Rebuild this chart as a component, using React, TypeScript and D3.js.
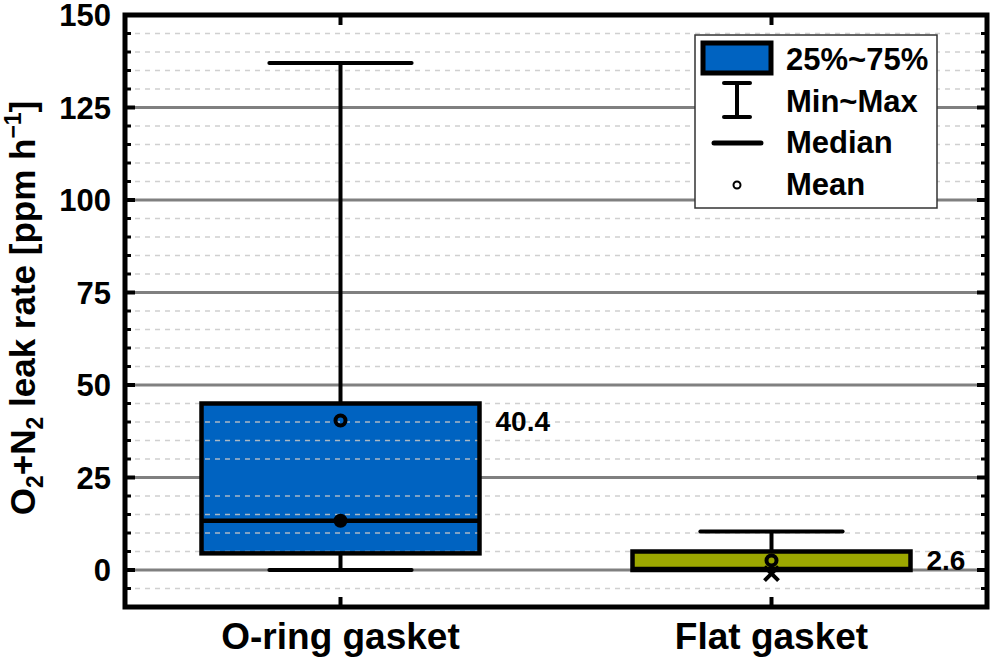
import React from 'react';
import * as d3 from 'd3';

// categories and box statistics
const categories = ['O-ring gasket', 'Flat gasket'];
const q1Values = [4.5, 0];
const q3Values = [45, 5];
const medianValues = [13.3, 0.3];
const minValues = [0, 0];
const maxValues = [137, 10.4];
const meanValues = [40.4, 2.6];
const dotValues = [13.3, null];
const crossValues = [null, -1];
const meanLabels = ['40.4', '2.6'];
const boxColors = ['#0063c1', '#9ca700'];

const yMajorTicks = [0, 25, 50, 75, 100, 125, 150];
const yMinorTicks = d3.range(-5, 150, 5).filter(v => v % 25 !== 0);

const legendLabels = ['25%~75%', 'Min~Max', 'Median', 'Mean'];

const W = 992;
const H = 658;
const margin = { left: 125, right: 5, top: 15, bottom: 51 };
const FONT = '"Liberation Sans", Arial, sans-serif';

const App: React.FC = () => {
  const x0 = margin.left;
  const x1 = W - margin.right;
  const yTop = margin.top;
  const yBot = H - margin.bottom;

  const y = d3.scaleLinear().domain([-10, 150]).range([yBot, yTop]);
  const x = d3.scalePoint<string>().domain(categories).range([x0, x1]).padding(0.5);
  const step = x.step();
  const boxW = step * 0.645;
  const capW = step * 0.33;

  return (
    <div style={{ position: 'absolute', left: 0, top: 0 }}>
      <svg width={W} height={H} style={{ display: 'block', background: '#fff' }} fontFamily={FONT}>
        {/* major grid under the boxes */}
        {yMajorTicks.filter(v => v < 150).map(v => (
          <line key={'mj' + v} x1={x0} x2={x1} y1={y(v)} y2={y(v)} stroke="#808080" strokeWidth={3} />
        ))}

        {/* box fills */}
        {categories.map((c, i) => {
          const cx = x(c) as number;
          return (
            <rect key={'f' + c} x={cx - boxW / 2} y={y(q3Values[i])} width={boxW}
              height={y(q1Values[i]) - y(q3Values[i])} fill={boxColors[i]} />
          );
        })}

        {/* dashed minor grid shows through the boxes */}
        {yMinorTicks.map(v => (
          <line key={'mn' + v} x1={x0} x2={x1} y1={y(v)} y2={y(v)}
            stroke="#c8c8c8" strokeWidth={1.5} strokeDasharray="5,5" opacity={0.85} />
        ))}

        {categories.map((c, i) => {
          const cx = x(c) as number;
          const cross = crossValues[i];
          const dot = dotValues[i];
          return (
            <g key={'o' + c}>
              <line x1={cx} x2={cx} y1={y(q3Values[i])} y2={y(maxValues[i])} stroke="#000" strokeWidth={4} />
              <line x1={cx} x2={cx} y1={y(q1Values[i])} y2={y(minValues[i])} stroke="#000" strokeWidth={4} />
              <line x1={cx - capW / 2} x2={cx + capW / 2} y1={y(maxValues[i])} y2={y(maxValues[i])}
                stroke="#000" strokeWidth={4} strokeLinecap="round" />
              <line x1={cx - capW / 2} x2={cx + capW / 2} y1={y(minValues[i])} y2={y(minValues[i])}
                stroke="#000" strokeWidth={4} strokeLinecap="round" />
              <rect x={cx - boxW / 2} y={y(q3Values[i])} width={boxW}
                height={y(q1Values[i]) - y(q3Values[i])} fill="none" stroke="#000" strokeWidth={4.5} />
              <line x1={cx - boxW / 2} x2={cx + boxW / 2} y1={y(medianValues[i])} y2={y(medianValues[i])}
                stroke="#000" strokeWidth={4.5} />
              {dot !== null && <circle cx={cx} cy={y(dot)} r={7} fill="#000" />}
              {cross !== null && (
                <path d={`M${cx - 7},${y(cross) - 7}L${cx + 7},${y(cross) + 7}M${cx + 7},${y(cross) - 7}L${cx - 7},${y(cross) + 7}`}
                  stroke="#000" strokeWidth={4} />
              )}
              <circle cx={cx} cy={y(meanValues[i])} r={5} fill="none" stroke="#000" strokeWidth={4} />
              <text x={cx + boxW / 2 + 16} y={y(meanValues[i])} dy="0.36em" fontSize={28} fontWeight="bold">
                {meanLabels[i]}
              </text>
            </g>
          );
        })}

        {/* y ticks, left and right, pointing inward */}
        {yMinorTicks.map(v => (
          <g key={'tk' + v}>
            <line x1={x0} x2={x0 + 6} y1={y(v)} y2={y(v)} stroke="#000" strokeWidth={3} />
            <line x1={x1} x2={x1 - 6} y1={y(v)} y2={y(v)} stroke="#000" strokeWidth={3} />
          </g>
        ))}
        {yMajorTicks.map(v => (
          <g key={'tK' + v}>
            <line x1={x0} x2={x0 + 10} y1={y(v)} y2={y(v)} stroke="#000" strokeWidth={4} />
            <line x1={x1} x2={x1 - 10} y1={y(v)} y2={y(v)} stroke="#000" strokeWidth={4} />
            <text x={x0 - 14} y={y(v)} dy="0.36em" textAnchor="end" fontSize={31} fontWeight="bold">{v}</text>
          </g>
        ))}

        {/* x ticks, bottom and top */}
        {categories.map(c => (
          <g key={'xt' + c}>
            <line x1={x(c)} x2={x(c)} y1={yBot} y2={yBot - 10} stroke="#000" strokeWidth={4} />
            <line x1={x(c)} x2={x(c)} y1={yTop} y2={yTop + 10} stroke="#000" strokeWidth={4} />
            <text x={x(c)} y={yBot + 42} textAnchor="middle" fontSize={37} fontWeight="bold">{c}</text>
          </g>
        ))}

        {/* frame */}
        <rect x={x0} y={yTop} width={x1 - x0} height={yBot - yTop} fill="none" stroke="#000" strokeWidth={5} />

        {/* y title */}
        <text transform={`translate(35,${(yTop + yBot) / 2 - 3}) rotate(-90)`} textAnchor="middle"
          fontSize={35} fontWeight="bold">
          O<tspan fontSize={23} dy={8}>2</tspan><tspan dy={-8}>+N</tspan><tspan fontSize={23} dy={8}>2</tspan>
          <tspan dy={-8}> leak rate [ppm h</tspan><tspan fontSize={23} dy={-14}>−1</tspan><tspan dy={14}>]</tspan>
        </text>

        {/* legend */}
        <g>
          <rect x={695} y={35} width={242} height={173} fill="#fff" stroke="#333" strokeWidth={1.5} />
          <rect x={703} y={43} width={68} height={30} fill={boxColors[0]} stroke="#000" strokeWidth={5} />
          <line x1={737} x2={737} y1={83} y2={117} stroke="#000" strokeWidth={4} />
          <line x1={724} x2={750} y1={83} y2={83} stroke="#000" strokeWidth={4} strokeLinecap="round" />
          <line x1={724} x2={750} y1={117} y2={117} stroke="#000" strokeWidth={4} strokeLinecap="round" />
          <line x1={714} x2={761} y1={143} y2={143} stroke="#000" strokeWidth={5} strokeLinecap="round" />
          <circle cx={737} cy={185} r={3.5} fill="#fff" stroke="#000" strokeWidth={2} />
          {legendLabels.map((l, i) => (
            <text key={l} x={786} y={70 + i * 41.7} fontSize={31} fontWeight="bold">{l}</text>
          ))}
        </g>
      </svg>
    </div>
  );
};

export default App;
